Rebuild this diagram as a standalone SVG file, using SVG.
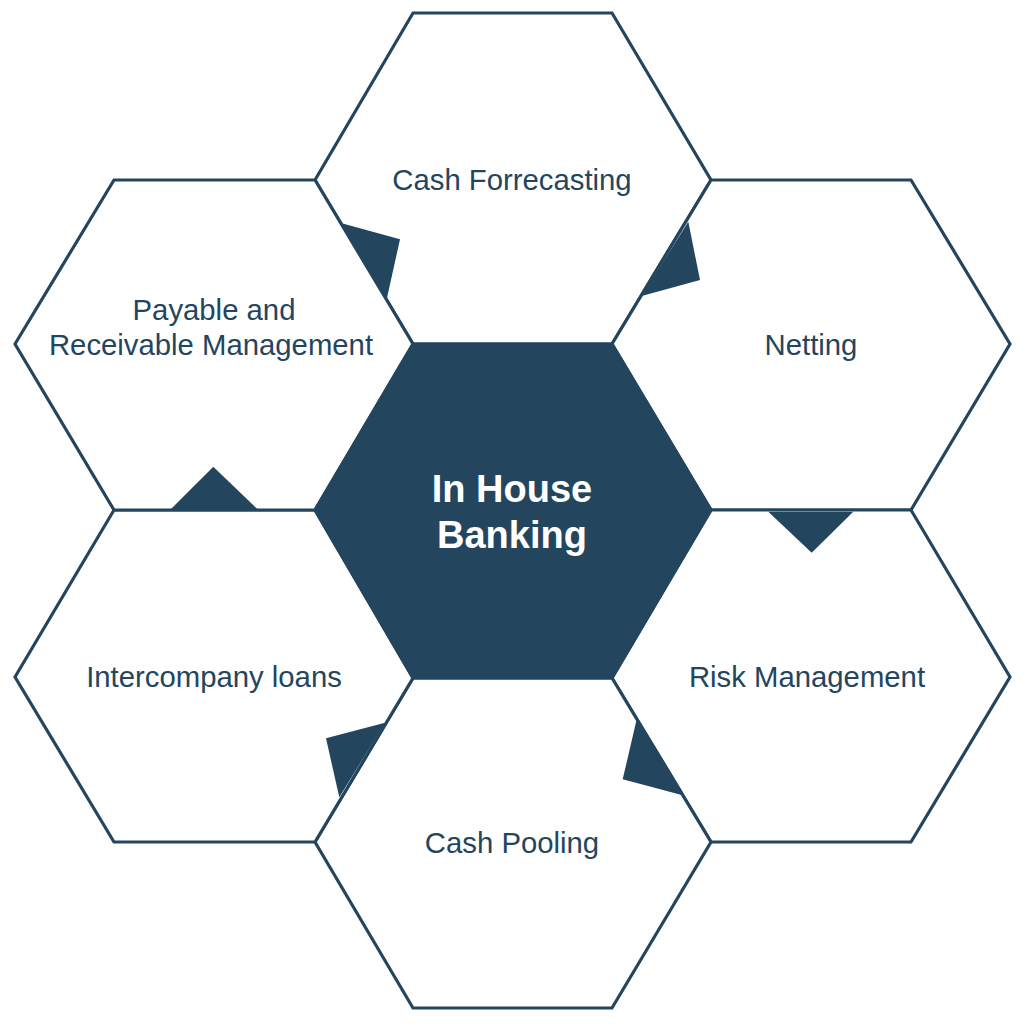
<svg xmlns="http://www.w3.org/2000/svg" width="1024" height="1024" viewBox="0 0 1024 1024">
<style>
.hex{fill:#ffffff;stroke:#24455e;stroke-width:3.2;stroke-linejoin:miter}
.core{fill:#24455e;stroke:#24455e;stroke-width:3.2}
.tri{fill:#24455e;stroke:none}
.lbl{font-family:"Liberation Sans",Arial,sans-serif;font-size:29.3px;fill:#24455e;text-anchor:middle}
.main{font-family:"Liberation Sans",Arial,sans-serif;font-size:38px;font-weight:bold;fill:#ffffff;text-anchor:middle}
</style>
<rect width="1024" height="1024" fill="#ffffff"/>
<g id="cash-forecasting">
<polygon class="hex" points="315,180 413,13 612,13 711,180 612,344 413,344"/>
<text class="lbl" x="512" y="190">Cash Forrecasting</text>
</g>
<g id="netting">
<polygon class="hex" points="612,344 711,180 911,180 1010,344 911,510 711,510"/>
<text class="lbl" x="811" y="355">Netting</text>
</g>
<g id="risk-management">
<polygon class="hex" points="612,678 711,510 911,510 1010,677 911,842 711,842"/>
<text class="lbl" x="807" y="687">Risk Management</text>
</g>
<g id="cash-pooling">
<polygon class="hex" points="315,842 413,678 612,678 711,842 612,1008 413,1008"/>
<text class="lbl" x="512" y="853">Cash Pooling</text>
</g>
<g id="intercompany-loans">
<polygon class="hex" points="15,677 114,510 315,510 413,678 315,842 114,842"/>
<text class="lbl" x="214" y="687">Intercompany loans</text>
</g>
<g id="payable-receivable">
<polygon class="hex" points="15,344 114,180 315,180 413,344 315,510 114,510"/>
<text class="lbl" x="214" y="320">Payable and</text>
<text class="lbl" x="211" y="355">Receivable Management</text>
</g>
<g id="in-house-banking">
<polygon class="core" points="315,510 413,344 612,344 711,510 612,678 413,678"/>
<text class="main" x="512" y="502">In House</text>
<text class="main" x="512" y="548">Banking</text>
</g>
<g id="connectors">
<polygon class="tri" points="341.7,223.3 400,239.3 386.7,299.3"/>
<polygon class="tri" points="688.3,221.7 700,280 641.7,296"/>
<polygon class="tri" points="768.3,511.7 853.3,511.7 811.7,552.7"/>
<polygon class="tri" points="170,510 213.3,466.7 258.3,510"/>
<polygon class="tri" points="385,722.7 326,738.3 339.3,797.3"/>
<polygon class="tri" points="636.7,719.3 622.7,779.3 681.7,795"/>
</g>
</svg>
